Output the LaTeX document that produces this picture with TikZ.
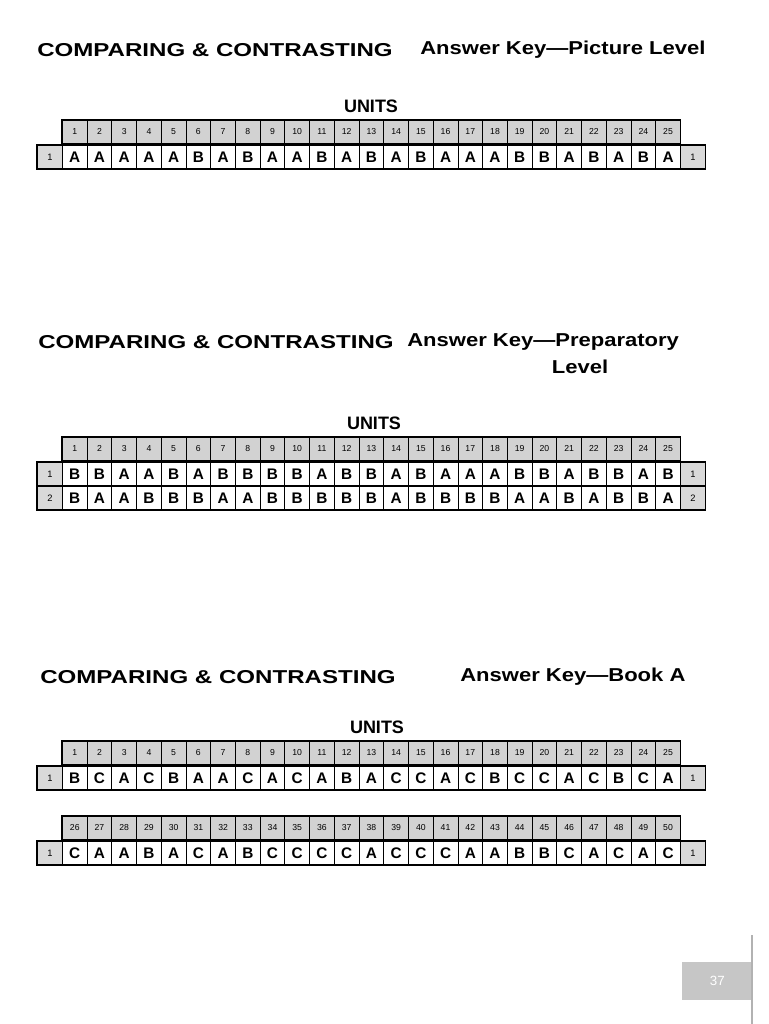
\documentclass[tikz,border=0pt]{standalone}
\usepackage{fontspec}
\setmainfont{Liberation Sans}
\usepackage{graphicx}
\tikzset{
  hcell/.style={draw=black,line width=0.6pt,fill=gray!35,anchor=north west,inner sep=0pt,minimum width=18.54pt,minimum height=17.25pt,font=\fontsize{6.5}{7}\selectfont},
  acell/.style={draw=black,line width=0.6pt,fill=white,anchor=north west,inner sep=0pt,minimum width=18.54pt,minimum height=17.5pt,font=\bfseries\fontsize{11.5}{12}\selectfont},
  lcell/.style={draw=black,line width=0.6pt,fill=gray!30,anchor=north west,inner sep=0pt,minimum width=18.75pt,minimum height=17.5pt,font=\fontsize{7}{8}\selectfont},
  ttl/.style={anchor=west,inner sep=0pt,font=\bfseries\fontsize{14}{15}\selectfont},
  ak/.style={anchor=west,inner sep=0pt,font=\bfseries\fontsize{14}{15}\selectfont},
  units/.style={inner sep=0pt,font=\bfseries\fontsize{13.5}{14}\selectfont}
}
\newcommand\hdrrow[3]{% prefix, ytop, start
  \foreach \i in {1,...,25}{
    \pgfmathtruncatemacro\n{#3+\i-1}
    \node[hcell] (#1h\i) at ({62+(\i-1)*24.72},#2) {\n};
  }
  \draw[line width=0.8pt] (#1h1.south west) |- (#1h25.north east) -- (#1h25.south east);
}
\newcommand\ansrow[4]{% prefix, ytop, label, letters
  \node[lcell] (#1L) at (37,#2) {#3};
  \foreach \l [count=\i] in {#4}{
    \node[acell] (#1a\i) at ({62+(\i-1)*24.72},#2) {\l};
  }
  \node[lcell] (#1R) at (680,#2) {#3};
  \draw[line width=0.9pt] (#1L.north west) rectangle (#1R.south east);
}
\newcommand\AK[1]{\scalebox{1.18}[1]{#1}}
\newcommand\CC{\scalebox{1.29}[1]{COMPARING \& CONTRASTING}}
\begin{document}
\begin{tikzpicture}[x=0.75pt,y=-0.75pt]
\useasboundingbox[fill=white] (0,0) rectangle (768,1024);
% section 1
\node[ttl] (t1) at (37,50) {\CC};
\node[ak] (k1) at (420,50) {\AK{Answer Key—Picture Level}};
\node[units] (u1) at (371,106) {UNITS};
\hdrrow{a}{120}{1}
\ansrow{ar}{145}{1}{A,A,A,A,A,B,A,B,A,A,B,A,B,A,B,A,A,A,B,B,A,B,A,B,A}
% section 2
\node[ttl] (t2) at (38,342) {\CC};
\node[ak] (k2) at (407,342) {\AK{Answer Key—Preparatory}};
\node[ak,anchor=center] (k2b) at (580,367) {\AK{Level}};
\node[units] (u2) at (374,423) {UNITS};
\hdrrow{b}{437}{1}
\ansrow{br}{462}{1}{B,B,A,A,B,A,B,B,B,B,A,B,B,A,B,A,A,A,B,B,A,B,B,A,B}
\ansrow{bs}{486}{2}{B,A,A,B,B,B,A,A,B,B,B,B,B,A,B,B,B,B,A,A,B,A,B,B,A}
% section 3
\node[ttl] (t3) at (40,677) {\CC};
\node[ak] (k3) at (460,677) {\AK{Answer Key—Book A}};
\node[units] (u3) at (377,727) {UNITS};
\hdrrow{c}{741}{1}
\ansrow{cr}{766}{1}{B,C,A,C,B,A,A,C,A,C,A,B,A,C,C,A,C,B,C,C,A,C,B,C,A}
\hdrrow{d}{816}{26}
\ansrow{dr}{841}{1}{C,A,A,B,A,C,A,B,C,C,C,C,A,C,C,C,A,A,B,B,C,A,C,A,C}
% page number
\node[fill=gray!45,anchor=north west,minimum width=52.5pt,minimum height=28.5pt,inner sep=0pt,text=white,font=\fontsize{10}{11}\selectfont] (pg) at (682,962) {37};
\draw[gray!60,line width=1.5pt] (752,935) -- (752,1024);
\end{tikzpicture}
\end{document}
